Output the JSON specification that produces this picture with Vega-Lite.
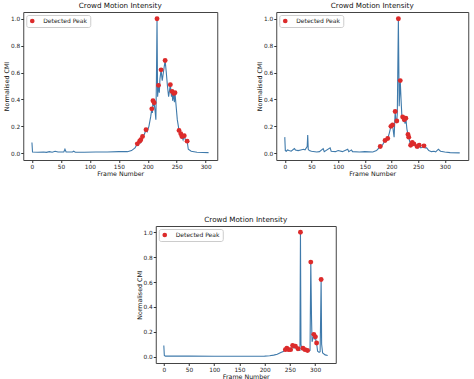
{
  "$schema": "https://vega.github.io/schema/vega-lite/v6.json",
  "background": "white",
  "padding": {"left": 3, "top": 1, "right": 2, "bottom": 1},
  "config": {
    "font": "DejaVu Sans",
    "view": {"stroke": "#444", "strokeWidth": 1},
    "title": {"fontSize": 7.2, "fontWeight": "normal", "color": "#111", "offset": 3},
    "axis": {"grid": false, "labelFontSize": 5.8, "titleFontSize": 6.3, "titleFontWeight": "normal", "tickSize": 2.5, "labelPadding": 1, "titlePadding": 1, "domain": false, "tickColor": "#333", "labelColor": "#222", "titleColor": "#111", "labelOverlap": false, "labelBound": false, "labelFlush": false, "tickCount": 12},
    "legend": {"orient": "top-left", "offset": 3, "fillColor": "white", "strokeColor": "#ccc", "padding": 3, "cornerRadius": 2, "labelFontSize": 6, "labelColor": "#222", "symbolSize": 22, "symbolStrokeWidth": 0, "labelOffset": 8}
  },
  "datasets": {
    "l1": [
      {"frame":0,"cmi":0.08},{"frame":1,"cmi":0.01},{"frame":10,"cmi":0.008},{"frame":20,"cmi":0.01},{"frame":25,"cmi":0.007},{"frame":30,"cmi":0.012},{"frame":35,"cmi":0.008},{"frame":40,"cmi":0.015},{"frame":45,"cmi":0.01},{"frame":55,"cmi":0.01},{"frame":57,"cmi":0.03},{"frame":59,"cmi":0.01},{"frame":70,"cmi":0.01},{"frame":72,"cmi":0.015},{"frame":75,"cmi":0.008},{"frame":90,"cmi":0.008},{"frame":110,"cmi":0.01},{"frame":130,"cmi":0.01},{"frame":150,"cmi":0.012},{"frame":165,"cmi":0.012},{"frame":172,"cmi":0.02},{"frame":178,"cmi":0.04},{"frame":182,"cmi":0.07},{"frame":184,"cmi":0.06},{"frame":186,"cmi":0.09},{"frame":187,"cmi":0.08},{"frame":188,"cmi":0.1},{"frame":189,"cmi":0.09},{"frame":191,"cmi":0.125},{"frame":194,"cmi":0.14},{"frame":197,"cmi":0.175},{"frame":199,"cmi":0.16},{"frame":202,"cmi":0.2},{"frame":205,"cmi":0.27},{"frame":207,"cmi":0.33},{"frame":208,"cmi":0.3},{"frame":209,"cmi":0.39},{"frame":210,"cmi":0.35},{"frame":211,"cmi":0.375},{"frame":213,"cmi":0.3},{"frame":214,"cmi":0.25},{"frame":215,"cmi":0.55},{"frame":216,"cmi":1.0},{"frame":217,"cmi":0.42},{"frame":218.5,"cmi":0.505},{"frame":220,"cmi":0.45},{"frame":221,"cmi":0.55},{"frame":223,"cmi":0.62},{"frame":225,"cmi":0.54},{"frame":227,"cmi":0.6},{"frame":230,"cmi":0.69},{"frame":232,"cmi":0.6},{"frame":234,"cmi":0.5},{"frame":236,"cmi":0.42},{"frame":238,"cmi":0.48},{"frame":239,"cmi":0.51},{"frame":241,"cmi":0.42},{"frame":242,"cmi":0.46},{"frame":243,"cmi":0.39},{"frame":245,"cmi":0.445},{"frame":246,"cmi":0.38},{"frame":247,"cmi":0.45},{"frame":249,"cmi":0.35},{"frame":251,"cmi":0.25},{"frame":254,"cmi":0.17},{"frame":255,"cmi":0.14},{"frame":257,"cmi":0.145},{"frame":258,"cmi":0.11},{"frame":259,"cmi":0.125},{"frame":261,"cmi":0.1},{"frame":263,"cmi":0.13},{"frame":265,"cmi":0.1},{"frame":268,"cmi":0.09},{"frame":270,"cmi":0.03},{"frame":275,"cmi":0.015},{"frame":285,"cmi":0.008},{"frame":305,"cmi":0.005}
    ],
    "p1": [
      {"frame":182,"cmi":0.07},{"frame":186,"cmi":0.09},{"frame":188,"cmi":0.1},{"frame":191,"cmi":0.125},{"frame":197,"cmi":0.175},{"frame":207,"cmi":0.33},{"frame":209,"cmi":0.39},{"frame":211,"cmi":0.375},{"frame":216,"cmi":1.0},{"frame":218.5,"cmi":0.505},{"frame":223,"cmi":0.62},{"frame":230,"cmi":0.69},{"frame":239,"cmi":0.51},{"frame":242,"cmi":0.46},{"frame":245,"cmi":0.445},{"frame":247,"cmi":0.45},{"frame":254,"cmi":0.17},{"frame":257,"cmi":0.145},{"frame":259,"cmi":0.125},{"frame":263,"cmi":0.13},{"frame":268,"cmi":0.09}
    ],
    "l2": [
      {"frame":0,"cmi":0.12},{"frame":1,"cmi":0.02},{"frame":3,"cmi":0.015},{"frame":5,"cmi":0.025},{"frame":8,"cmi":0.02},{"frame":12,"cmi":0.015},{"frame":18,"cmi":0.035},{"frame":20,"cmi":0.025},{"frame":25,"cmi":0.02},{"frame":30,"cmi":0.025},{"frame":35,"cmi":0.03},{"frame":38,"cmi":0.025},{"frame":42,"cmi":0.05},{"frame":43,"cmi":0.135},{"frame":44,"cmi":0.03},{"frame":46,"cmi":0.02},{"frame":50,"cmi":0.015},{"frame":60,"cmi":0.01},{"frame":65,"cmi":0.012},{"frame":72,"cmi":0.035},{"frame":74,"cmi":0.012},{"frame":85,"cmi":0.04},{"frame":87,"cmi":0.015},{"frame":95,"cmi":0.012},{"frame":100,"cmi":0.02},{"frame":108,"cmi":0.012},{"frame":118,"cmi":0.03},{"frame":120,"cmi":0.012},{"frame":125,"cmi":0.025},{"frame":127,"cmi":0.012},{"frame":140,"cmi":0.01},{"frame":150,"cmi":0.012},{"frame":165,"cmi":0.01},{"frame":172,"cmi":0.02},{"frame":179,"cmi":0.05},{"frame":183,"cmi":0.06},{"frame":188,"cmi":0.095},{"frame":191,"cmi":0.1},{"frame":193,"cmi":0.11},{"frame":196,"cmi":0.15},{"frame":199,"cmi":0.2},{"frame":202,"cmi":0.21},{"frame":204,"cmi":0.15},{"frame":205,"cmi":0.12},{"frame":207,"cmi":0.31},{"frame":208,"cmi":0.25},{"frame":210,"cmi":0.24},{"frame":211,"cmi":0.3},{"frame":213,"cmi":1.0},{"frame":214.5,"cmi":0.35},{"frame":216.5,"cmi":0.54},{"frame":218,"cmi":0.4},{"frame":219.5,"cmi":0.28},{"frame":221,"cmi":0.27},{"frame":222.5,"cmi":0.24},{"frame":224,"cmi":0.25},{"frame":225.5,"cmi":0.22},{"frame":227,"cmi":0.26},{"frame":229,"cmi":0.18},{"frame":231,"cmi":0.14},{"frame":232.5,"cmi":0.12},{"frame":234,"cmi":0.09},{"frame":236,"cmi":0.06},{"frame":237.5,"cmi":0.07},{"frame":239,"cmi":0.08},{"frame":240.5,"cmi":0.06},{"frame":242,"cmi":0.07},{"frame":245,"cmi":0.055},{"frame":248,"cmi":0.05},{"frame":250,"cmi":0.04},{"frame":252,"cmi":0.06},{"frame":255,"cmi":0.04},{"frame":258,"cmi":0.045},{"frame":261,"cmi":0.055},{"frame":263,"cmi":0.04},{"frame":266,"cmi":0.04},{"frame":270,"cmi":0.02},{"frame":275,"cmi":0.012},{"frame":280,"cmi":0.015},{"frame":283,"cmi":0.01},{"frame":288,"cmi":0.03},{"frame":292,"cmi":0.015},{"frame":300,"cmi":0.01},{"frame":310,"cmi":0.005},{"frame":328,"cmi":0.003}
    ],
    "p2": [
      {"frame":179,"cmi":0.05},{"frame":188,"cmi":0.095},{"frame":193,"cmi":0.11},{"frame":199,"cmi":0.2},{"frame":202,"cmi":0.21},{"frame":207,"cmi":0.31},{"frame":210,"cmi":0.24},{"frame":213,"cmi":1.0},{"frame":216.5,"cmi":0.54},{"frame":221,"cmi":0.27},{"frame":224,"cmi":0.25},{"frame":227,"cmi":0.26},{"frame":231,"cmi":0.14},{"frame":232.5,"cmi":0.12},{"frame":236,"cmi":0.06},{"frame":239,"cmi":0.08},{"frame":242,"cmi":0.07},{"frame":248,"cmi":0.05},{"frame":252,"cmi":0.06},{"frame":261,"cmi":0.055}
    ],
    "l3": [
      {"frame":0,"cmi":0.09},{"frame":1,"cmi":0.01},{"frame":3,"cmi":0.005},{"frame":50,"cmi":0.005},{"frame":100,"cmi":0.004},{"frame":150,"cmi":0.004},{"frame":200,"cmi":0.005},{"frame":210,"cmi":0.008},{"frame":218,"cmi":0.013},{"frame":225,"cmi":0.02},{"frame":232,"cmi":0.035},{"frame":238,"cmi":0.045},{"frame":241,"cmi":0.057},{"frame":244,"cmi":0.068},{"frame":246,"cmi":0.05},{"frame":247.5,"cmi":0.057},{"frame":249,"cmi":0.05},{"frame":251.5,"cmi":0.057},{"frame":253,"cmi":0.06},{"frame":255.5,"cmi":0.09},{"frame":258,"cmi":0.07},{"frame":261,"cmi":0.084},{"frame":263,"cmi":0.07},{"frame":266,"cmi":0.065},{"frame":269,"cmi":0.05},{"frame":270,"cmi":0.05},{"frame":271,"cmi":1.0},{"frame":272,"cmi":0.1},{"frame":274,"cmi":0.06},{"frame":276,"cmi":0.068},{"frame":278,"cmi":0.055},{"frame":280,"cmi":0.057},{"frame":282,"cmi":0.05},{"frame":285,"cmi":0.05},{"frame":288,"cmi":0.045},{"frame":290,"cmi":0.05},{"frame":291.5,"cmi":0.76},{"frame":293,"cmi":0.3},{"frame":294,"cmi":0.12},{"frame":296,"cmi":0.15},{"frame":297.5,"cmi":0.18},{"frame":299,"cmi":0.14},{"frame":300.7,"cmi":0.16},{"frame":302,"cmi":0.12},{"frame":303,"cmi":0.11},{"frame":305,"cmi":0.045},{"frame":308,"cmi":0.035},{"frame":310,"cmi":0.04},{"frame":311,"cmi":0.3},{"frame":312,"cmi":0.62},{"frame":313,"cmi":0.1},{"frame":315,"cmi":0.03},{"frame":320,"cmi":0.015},{"frame":325,"cmi":0.01}
    ],
    "p3": [
      {"frame":241,"cmi":0.057},{"frame":244,"cmi":0.068},{"frame":247.5,"cmi":0.057},{"frame":251.5,"cmi":0.057},{"frame":255.5,"cmi":0.09},{"frame":261,"cmi":0.084},{"frame":266,"cmi":0.065},{"frame":271,"cmi":1.0},{"frame":276,"cmi":0.068},{"frame":280,"cmi":0.057},{"frame":285,"cmi":0.05},{"frame":291.5,"cmi":0.76},{"frame":297.5,"cmi":0.18},{"frame":300.7,"cmi":0.16},{"frame":303,"cmi":0.11},{"frame":312,"cmi":0.62}
    ]
  },
  "vconcat": [
    {
      "hconcat": [
        {
          "width": 194, "height": 148,
          "title": "Crowd Motion Intensity",
          "layer": [
            {"data": {"name": "l1"}, "mark": {"type": "line", "color": "#3f7aab", "strokeWidth": 1.1},
             "encoding": {
               "x": {"field": "frame", "type": "quantitative", "scale": {"domain": [-15, 320], "nice": false, "zero": false}, "axis": {"title": "Frame Number", "values": [0,50,100,150,200,250,300], "labelOverlap": false, "tickCount": 12}},
               "y": {"field": "cmi", "type": "quantitative", "scale": {"domain": [-0.05, 1.05], "nice": false, "zero": false}, "axis": {"title": "Normalised CMI", "values": [0,0.2,0.4,0.6,0.8,1.0], "format": ".1f", "labelOverlap": false, "tickCount": 12}}
             }},
            {"data": {"name": "p1"}, "mark": {"type": "point", "filled": true, "opacity": 1, "size": 24},
             "encoding": {
               "x": {"field": "frame", "type": "quantitative"},
               "y": {"field": "cmi", "type": "quantitative"},
               "color": {"datum": "Detected Peak", "scale": {"domain": ["Detected Peak"], "range": ["#dc2b2b"]}, "legend": {"title": null}}
             }}
          ]
        },
        {
          "width": 192, "height": 148,
          "title": "Crowd Motion Intensity",
          "layer": [
            {"data": {"name": "l2"}, "mark": {"type": "line", "color": "#3f7aab", "strokeWidth": 1.1},
             "encoding": {
               "x": {"field": "frame", "type": "quantitative", "scale": {"domain": [-16, 344], "nice": false, "zero": false}, "axis": {"title": "Frame Number", "values": [0,50,100,150,200,250,300], "labelOverlap": false, "tickCount": 12}},
               "y": {"field": "cmi", "type": "quantitative", "scale": {"domain": [-0.05, 1.05], "nice": false, "zero": false}, "axis": {"title": "Normalised CMI", "values": [0,0.2,0.4,0.6,0.8,1.0], "format": ".1f", "labelOverlap": false, "tickCount": 12}}
             }},
            {"data": {"name": "p2"}, "mark": {"type": "point", "filled": true, "opacity": 1, "size": 24},
             "encoding": {
               "x": {"field": "frame", "type": "quantitative"},
               "y": {"field": "cmi", "type": "quantitative"},
               "color": {"datum": "Detected Peak", "scale": {"domain": ["Detected Peak"], "range": ["#dc2b2b"]}, "legend": {"title": null}}
             }}
          ]
        }
      ],
      "spacing": 37,
      "resolve": {"scale": {"color": "independent"}, "legend": {"color": "independent"}}
    },
    {
      "width": 180, "height": 137,
      "title": "Crowd Motion Intensity",
      "layer": [
        {"data": {"name": "l3"}, "mark": {"type": "line", "color": "#3f7aab", "strokeWidth": 1.1},
         "encoding": {
           "x": {"field": "frame", "type": "quantitative", "scale": {"domain": [-16, 341], "nice": false, "zero": false}, "axis": {"title": "Frame Number", "values": [0,50,100,150,200,250,300], "labelOverlap": false, "tickCount": 12}},
           "y": {"field": "cmi", "type": "quantitative", "scale": {"domain": [-0.05, 1.05], "nice": false, "zero": false}, "axis": {"title": "Normalised CMI", "values": [0,0.2,0.4,0.6,0.8,1.0], "format": ".1f", "labelOverlap": false, "tickCount": 12}}
         }},
        {"data": {"name": "p3"}, "mark": {"type": "point", "filled": true, "opacity": 1, "size": 24},
         "encoding": {
           "x": {"field": "frame", "type": "quantitative"},
           "y": {"field": "cmi", "type": "quantitative"},
           "color": {"datum": "Detected Peak", "scale": {"domain": ["Detected Peak"], "range": ["#dc2b2b"]}, "legend": {"title": null}}
         }}
      ]
    }
  ],
  "spacing": 37,
  "center": true,
  "resolve": {"scale": {"color": "independent"}, "legend": {"color": "independent"}}
}
